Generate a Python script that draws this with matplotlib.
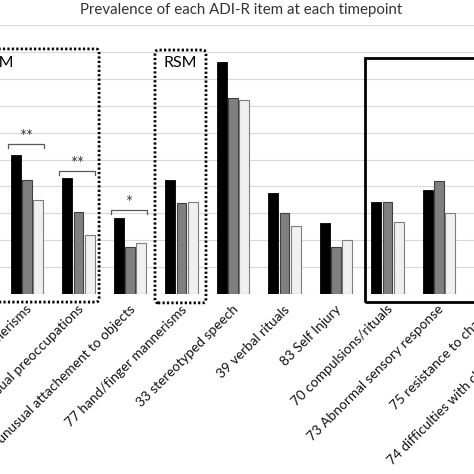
import matplotlib
matplotlib.use("Agg")
import matplotlib.pyplot as plt
from matplotlib.patches import FancyBboxPatch, Rectangle

plt.rcParams['font.family'] = ['Lato', 'DejaVu Sans']

items = ['78 complex mannerisms', '68 unusual preoccupations',
         '76 unusual attachement to objects', '77 hand/finger mannerisms',
         '33 stereotyped speech', '39 verbal rituals', '83 Self Injury',
         '70 compulsions/rituals', '73 Abnormal sensory response',
         '75 resistance to change', '74 difficulties with change in routine']
t1 = [51.7, 43.1, 28.2, 42.4, 86.2, 37.5, 26.4, 34.3, 38.7, 15.6, 20.0]
t2 = [42.4, 30.5, 17.5, 33.8, 72.9, 30.1, 17.5, 34.3, 42.1, 14.0, 18.0]
t3 = [35.0, 21.9, 19.0, 34.2, 72.1, 25.3, 20.1, 26.8, 30.2, 12.0, 15.0]
# significance brackets: (group index, stars, height)
sig = [(0, '**', 55.8), (1, '**', 45.7), (2, '*', 31.2)]

fig = plt.figure(figsize=(4.74, 4.74), dpi=100)
# axes spills past the figure on both sides, like the cropped original
ax = fig.add_axes([0, 1 - 294 / 474, 1, (294 - 25) / 474])
x = list(range(len(items)))
w = 0.194
off = 0.223
ax.bar([i - off for i in x], t1, w, color='black', edgecolor='black', linewidth=0.6, zorder=3)
ax.bar(x, t2, w, color='#7f7f7f', edgecolor='#404040', linewidth=0.8, zorder=3)
ax.bar([i + off for i in x], t3, w, color='#f0f0f0', edgecolor='#7f7f7f', linewidth=0.8, zorder=3)

ax.set_xticks([])
ax.set_yticks(range(0, 101, 10))
ax.set_ylim(0, 100)
ax.yaxis.grid(True, color='#d9d9d9', linewidth=0.8, zorder=0)
ax.tick_params(axis='y', left=False, labelleft=False)
for s in ax.spines.values():
    s.set_visible(False)

# category labels drawn as text so the ones past the right edge still show
for i, lab in zip(x, items):
    ax.annotate(lab, xy=(i, 0), xytext=(-1, -6.5), textcoords='offset points',
                rotation=45, ha='right', va='top', rotation_mode='anchor',
                fontsize=9.8, color='#111111', annotation_clip=False)

# brackets with stars
for g, stars, h in sig:
    x0, x1 = g - 0.37, g + 0.33
    ax.plot([x0, x0, x1, x1], [h - 1.6, h, h, h - 1.6], color='#595959',
            linewidth=0.9, clip_on=False, zorder=4)
    ax.text((x0 + x1) / 2, h - 0.5, stars, ha='center', va='bottom',
            fontsize=12, color='#404040')

# dotted boxes around RSM items
box_kw = dict(boxstyle='round,pad=0,rounding_size=0.06', fill=False,
              edgecolor='black', linewidth=2.0, linestyle=(0, (0.8, 0.8)),
              clip_on=False, zorder=5, mutation_aspect=25)
ax.add_patch(FancyBboxPatch((-1.5, -3.0), 1.40 + 1.5, 94.1, **box_kw))
ax.add_patch(FancyBboxPatch((2.485, -3.3), 0.99, 94.0, **box_kw))
ax.text(-0.25, 85.9, 'RSM', ha='right', va='center', fontsize=11.5)
ax.text(2.98, 85.9, 'RSM', ha='center', va='center', fontsize=11.5)

# solid box around the sensory / sameness items
ax.add_patch(Rectangle((6.56, -3.0), 5.0, 90.7, fill=False, edgecolor='black',
                       linewidth=2.0, clip_on=False, zorder=5))
ax.set_xlim(-27 / 51.5, 447 / 51.5)

fig.text(0.508, 1 - 10 / 474, 'Prevalence of each ADI-R item at each timepoint',
         ha='center', va='center', fontsize=10.8, color='#333333')

fig.savefig('out.png', dpi=100)
